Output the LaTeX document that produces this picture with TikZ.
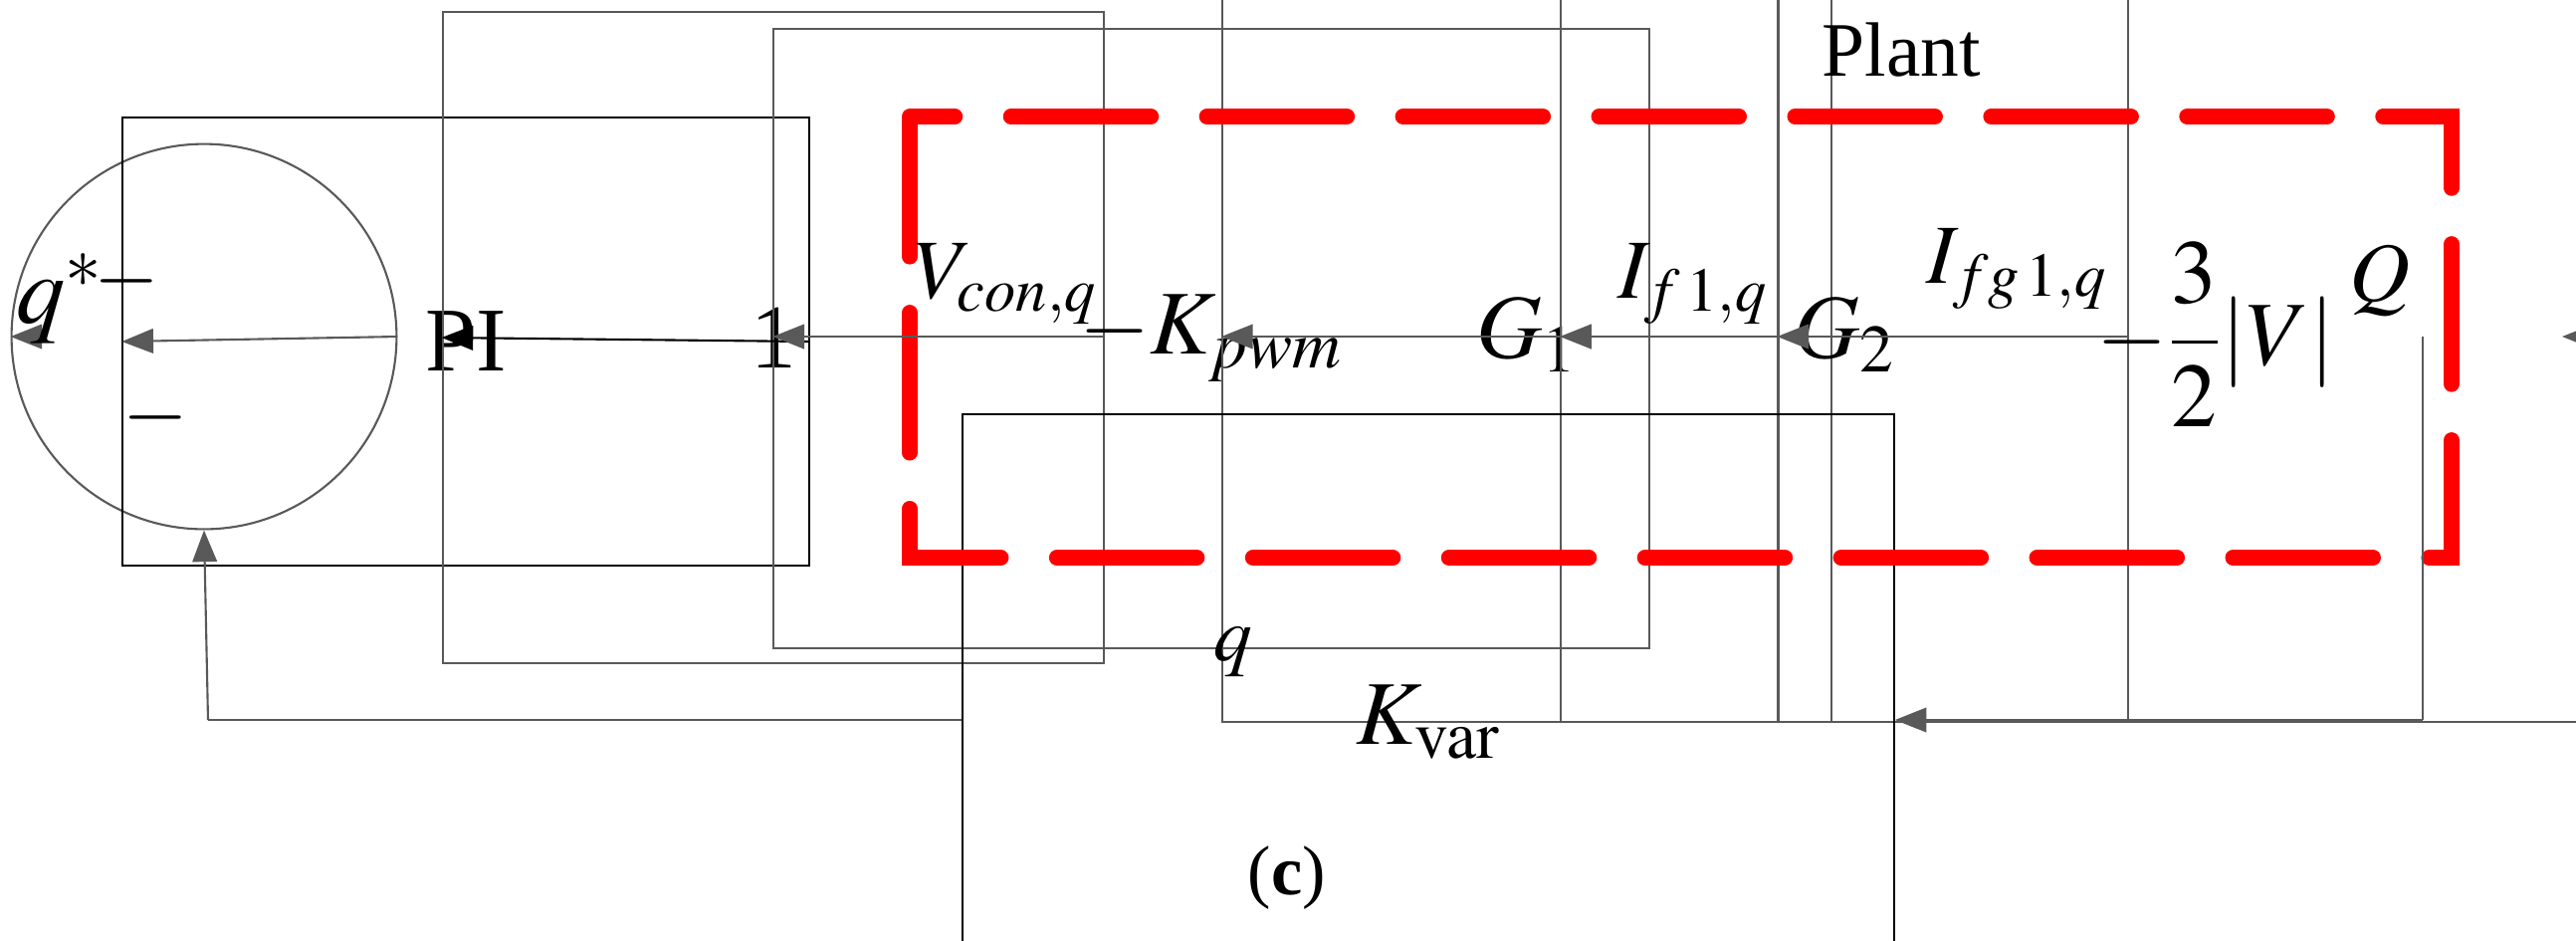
\documentclass[tikz,border=0pt]{standalone}
\usepackage{amsmath}
\usepackage{mathptmx}
\usepackage{fontspec}
\setmainfont{Liberation Serif}
\usetikzlibrary{arrows.meta,shapes.geometric}
\begin{document}
\begin{tikzpicture}[x=0.01cm,y=-0.01cm,
  ln/.style={draw=black!65,line width=0.6pt},
  arr/.style={ln,-{Triangle[length=9pt,width=7pt]}},
  blk/.style={draw=black!65,line width=0.6pt,inner sep=0pt},
  big/.style={font=\fontsize{26}{30}\selectfont},
  lbl/.style={font=\fontsize{24}{28}\selectfont,inner sep=0pt}]
\useasboundingbox (0,0) rectangle (2588,944);
% blocks
\node[blk,ellipse,minimum width=110,minimum height=110] (sum) at (205,338) {};
\node[blk,draw=black,minimum width=196,minimum height=128,big] (pi) at (468,343) {PI};
\node[blk,minimum width=189,minimum height=186,big] (one) at (777,339) {1};
\node[blk,minimum width=250,minimum height=177,big] (kp) at (1217,340) {$-K_{pwm}$};
\node[blk,minimum width=174,minimum height=221,big] (g1) at (1534,336) {$G_1$};
\node[blk,minimum width=162,minimum height=221,big] (g2) at (1853,336) {$G_2$};
\node[blk,minimum width=250,minimum height=221,big] (gv) at (2226,336) {$-\dfrac{3}{2}\lvert V\rvert$};
\node[blk,draw=black,minimum width=266,minimum height=176,big] (kv) at (1435,725) {$K_{\mathrm{var}}$};
% plant box
\draw[red,line width=4.5pt,dash pattern=on 40pt off 16pt,line cap=round] (914,117) rectangle (2463,560);
\node[font=\fontsize{22}{26}\selectfont] (plant) at (1910,50) {Plant};
% coordinates
\coordinate (in) at (17,338);
\coordinate (out) at (2574,338);
\coordinate (tap) at (2434,338);
\coordinate (tapd) at (2434,723);
\coordinate (fbl) at (209,723);
% connectors
\draw[arr] (in) -- (sum.west);
\draw[arr] (sum.east) -- (pi.west);
\draw[arr,draw=black] (pi.east) -- (one.west);
\draw[arr] (one.east |- 0,338) -- (kp.west |- 0,338);
\draw[arr] (kp.east |- 0,338) -- (g1.west |- 0,338);
\draw[arr] (g1.east |- 0,338) -- (g2.west |- 0,338);
\draw[arr] (g2.east |- 0,338) -- (gv.west |- 0,338);
\draw[arr] (gv.east |- 0,338) -- (out);
\draw[ln] (tap) -- (tapd);
\draw[arr] (tapd) -- (kv.east |- tapd);
\draw[ln] (kv.west |- fbl) -- (fbl);
\draw[arr] (fbl) -- (sum.south);
% labels
\node[lbl,font=\fontsize{28}{32}\selectfont] (qs) at (60,300) {$q^{*}$};
\node[lbl] (m1) at (127,282) {$\boldsymbol{-}$};
\node[lbl] (m2) at (156,419) {$\boldsymbol{-}$};
\node[lbl,anchor=west] (vc) at (918,285) {$V_{con,q}$};
\node[lbl,anchor=west] (if) at (1625,285) {$I_{f\,1,q}$};
\node[lbl,anchor=west] (ifg) at (1935,270) {$I_{fg\,1,q}$};
\node[lbl,anchor=west] (qo) at (2360,282) {$Q$};
\node[font=\fontsize{22}{26}\selectfont] (ql) at (1239,655) {$q$};
\node[font=\fontsize{20}{24}\selectfont] (cap) at (1293,882) {(\textbf{c})};
\end{tikzpicture}
\end{document}
